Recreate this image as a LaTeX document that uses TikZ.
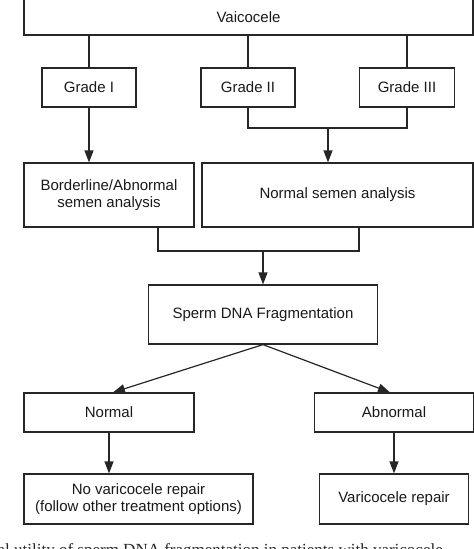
\documentclass[tikz,border=0pt]{standalone}
\usepackage{fontspec}
\setmainfont{Liberation Sans}
\newfontfamily\capfont{Liberation Serif}
\usetikzlibrary{arrows.meta}

\begin{document}
\begin{tikzpicture}[x=1pt,y=-1pt,
  box/.style={draw=black!85,line width=1.2pt,align=center,inner sep=0pt,
    font=\fontsize{15}{17}\selectfont,text=black!90},
  link/.style={draw=black!85,line width=1.2pt},
  arr/.style={link,-{Triangle[length=12pt,width=9pt]}}]
%
\useasboundingbox (0,0) rectangle (474,549);
%
% boxes: centre, width, height
\node[box,minimum width=449pt,minimum height=35.3pt] (1) at (248.5,17.35) {Vaicocele};
\node[box,minimum width=94pt,minimum height=39pt] (2) at (89,87.5) {Grade I};
\node[box,minimum width=94pt,minimum height=39pt] (3) at (248,87.5) {Grade II};
\node[box,minimum width=95pt,minimum height=39pt] (4) at (407,87.5) {Grade III};
\node[box,minimum width=170pt,minimum height=64pt] (5) at (109,195) {Borderline/Abnormal\\semen analysis};
\node[box,minimum width=271pt,minimum height=64pt] (6) at (337.5,195) {Normal semen analysis};
\node[box,minimum width=229pt,minimum height=59pt] (8) at (263,314.5) {Sperm DNA Fragmentation};
\node[box,minimum width=170pt,minimum height=39pt] (9) at (109,412.5) {Normal};
\node[box,minimum width=159pt,minimum height=39pt] (10) at (394,412.5) {Abnormal};
\node[box,minimum width=229pt,minimum height=50pt] (11) at (138.5,499) {No varicocele repair\\(follow other treatment options)};
\node[box,minimum width=149pt,minimum height=50pt] (12) at (394,499) {Varicocele repair};
%
% junctions
\coordinate (j1) at (328,128);
\coordinate (j2) at (263,251);
%
% grades
\draw[link] (1.south -| 2.north) -- (2.north);
\draw[link] (1.south -| 3.north) -- (3.north);
\draw[link] (1.south -| 4.north) -- (4.north);
\draw[arr] (2.south) -- (2.south |- 5.north);
\draw[link] (3.south) |- (j1) -| (4.south);
\draw[arr] (j1) -- (j1 |- 6.north);
%
% semen analysis
\draw[link] ([xshift=49pt]5.south) |- (j2) -| ([xshift=21.5pt]6.south);
\draw[arr] (j2) -- (8.north);
%
% fragmentation
\draw[arr] (8.south) -- ([xshift=4pt]9.north);
\draw[arr] (8.south) -- ([xshift=-4pt]10.north);
\draw[arr] (9.south) -- (9.south |- 11.north);
\draw[arr] (10.south) -- (12.north);
%
% caption, cut by the page
\node[font=\capfont\fontsize{17}{20}\selectfont,anchor=base east,inner sep=0pt,text=black!85] (13) at (443,555) {al utility of sperm DNA fragmentation in patients with varicocele};
%
\end{tikzpicture}
\end{document}
